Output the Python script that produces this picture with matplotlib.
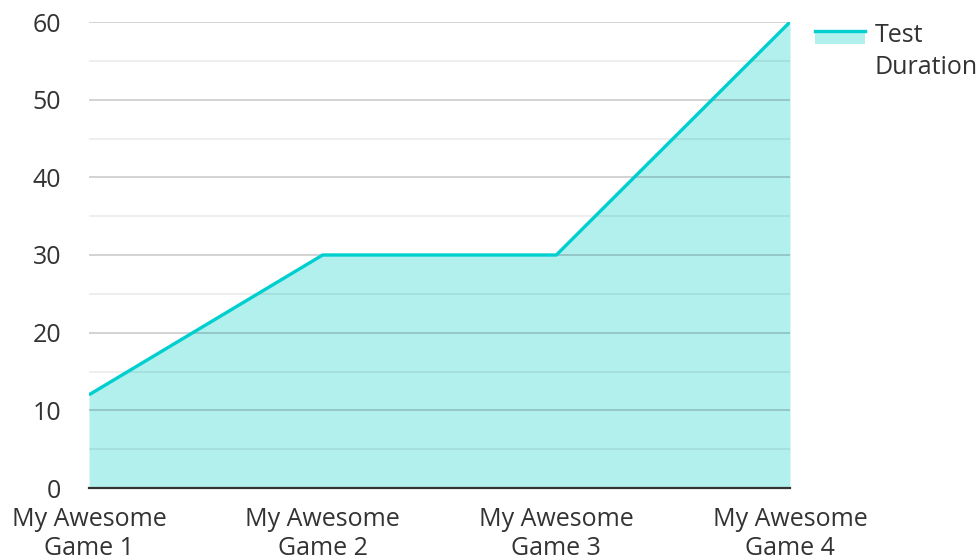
import matplotlib.pyplot as plt
from matplotlib.legend_handler import HandlerBase
from matplotlib.patches import Rectangle
from matplotlib.lines import Line2D

plt.rcParams['font.family'] = ['Open Sans', 'DejaVu Sans']

games = ['My Awesome\nGame 1', 'My Awesome\nGame 2', 'My Awesome\nGame 3', 'My Awesome\nGame 4']
duration = [12, 30, 30, 60]
series_name = 'Test\nDuration'

line_col = '#00cfcf'
fill_col = '#b2f0ee'
text_col = '#333333'
LEG_SHIFT = 12  # points, lifts the legend key up to the first text line


class AreaHandler(HandlerBase):
    # patch with the line along its top edge
    def create_artists(self, legend, orig, xd, yd, w, h, fs, trans):
        y0 = yd + LEG_SHIFT
        top = y0 + h * 0.75
        r = Rectangle((xd, y0), w, top - y0,
                      facecolor=fill_col, edgecolor='none', transform=trans)
        l = Line2D([xd, xd + w], [top, top], color=line_col, lw=2.4, transform=trans)
        return [r, l]


fig = plt.figure(figsize=(9.8, 5.6), dpi=100)
ax = fig.add_axes([89 / 980, 72 / 560, 701 / 980, 466 / 560])

x = list(range(len(games)))
ax.fill_between(x, 0, duration, color=fill_col, lw=0, zorder=1)
ln, = ax.plot(x, duration, color=line_col, lw=2.4, zorder=3, solid_capstyle='butt')

ax.set_xlim(0, len(games) - 1)
ax.set_ylim(0, 60)
ax.set_yticks(range(0, 61, 10))
ax.set_yticks(range(5, 60, 10), minor=True)
ax.set_xticks(x)
ax.set_xticklabels(games)

ax.grid(True, which='major', axis='y', color='black', alpha=0.2, lw=1.2, zorder=2)
ax.grid(True, which='minor', axis='y', color='black', alpha=0.08, lw=1.2, zorder=2)
ax.set_axisbelow(False)
for s in ['top', 'right', 'left']:
    ax.spines[s].set_visible(False)
ax.spines['bottom'].set_color(text_col)
ax.spines['bottom'].set_linewidth(1.6)
ax.spines['bottom'].set_zorder(4)

ax.tick_params(axis='both', which='both', length=0, labelsize=18, colors=text_col, pad=14)
ax.tick_params(axis='y', pad=20)
for t in ax.get_yticklabels():
    t.set_horizontalalignment('right')

leg = ax.legend([ln], [series_name], handler_map={Line2D: AreaHandler()},
                loc='upper left', bbox_to_anchor=(1.021, 1.02), frameon=False,
                fontsize=18, handlelength=2.0, handletextpad=0.4, borderaxespad=0)
for t in leg.get_texts():
    t.set_color(text_col)
    t.set_linespacing(1.38)

fig.savefig('out.png', dpi=100)
